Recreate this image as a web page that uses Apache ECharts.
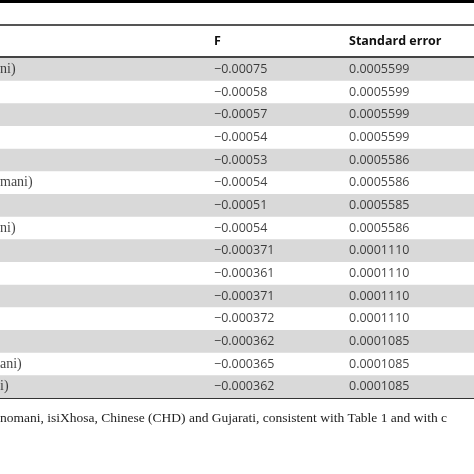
<!DOCTYPE html>
<html><head><meta charset="utf-8">
<script src="https://cdn.jsdelivr.net/npm/echarts@6/dist/echarts.min.js"></script>
<style>html,body{margin:0;padding:0;background:#fff}#c{width:474px;height:474px}</style>
</head><body><div id="c"></div>
<script>
const rowLabels = ['ni)','','','','','mani)','','ni)','','','','','','ani)','i)'];
const fValues = ['\u22120.00075','\u22120.00058','\u22120.00057','\u22120.00054','\u22120.00053','\u22120.00054','\u22120.00051','\u22120.00054','\u22120.000371','\u22120.000361','\u22120.000371','\u22120.000372','\u22120.000362','\u22120.000365','\u22120.000362'];
const seValues = ['0.0005599','0.0005599','0.0005599','0.0005599','0.0005586','0.0005586','0.0005585','0.0005586','0.0001110','0.0001110','0.0001110','0.0001110','0.0001085','0.0001085','0.0001085'];
const headers = ['F','Standard error'];
const footnote = 'nomani, isiXhosa, Chinese (CHD) and Gujarati, consistent with Table 1 and with c';
const rows = rowLabels.map((_, i) => 'r' + i);
const colX = [0, 214, 349];
const font = '"Open Sans", sans-serif';
const txt = (col, vals) => ({
  type: 'scatter', symbolSize: 0, silent: true,
  data: vals.map((v, i) => ({ value: [colX[col], rows[i]], label: { formatter: v } })),
  label: { show: true, position: 'right', distance: 0, color: '#111', fontSize: 12.5, fontFamily: col === 0 ? '"Liberation Serif", serif' : font, fontSize: col === 0 ? 14 : 12.5 }
});
const chart = echarts.init(document.getElementById('c'));
chart.setOption({
  animation: false,
  grid: { left: 0, right: 0, top: 58, bottom: 76 },
  xAxis: { type: 'value', min: 0, max: 474, show: false },
  yAxis: { type: 'category', data: rows, inverse: true, show: false },
  series: [
    { type: 'bar', barWidth: '100%', silent: true, itemStyle: { color: '#d9d9d9' },
      data: rows.map((r, i) => i % 2 === 0 ? 474 : 0) },
    txt(0, rowLabels), txt(1, fValues), txt(2, seValues)
  ],
  graphic: [
    { type: 'rect', shape: { x: 0, y: 0, width: 474, height: 3 }, style: { fill: '#000' } },
    { type: 'rect', shape: { x: 0, y: 24, width: 474, height: 2 }, style: { fill: '#555' } },
    { type: 'rect', shape: { x: 0, y: 56, width: 474, height: 2 }, style: { fill: '#444' } },
    { type: 'rect', shape: { x: 0, y: 397, width: 474, height: 2 }, style: { fill: '#333' } },
    { type: 'text', x: colX[1], y: 41, style: { text: headers[0], font: 'bold 12.5px ' + font, fill: '#111', verticalAlign: 'middle' } },
    { type: 'text', x: colX[2], y: 41, style: { text: headers[1], font: 'bold 12.5px ' + font, fill: '#111', verticalAlign: 'middle' } },
    { type: 'text', x: 0, y: 418, style: { text: footnote, font: '13.5px "Liberation Serif", serif', fill: '#222', verticalAlign: 'middle' } }
  ]
});
</script></body></html>
